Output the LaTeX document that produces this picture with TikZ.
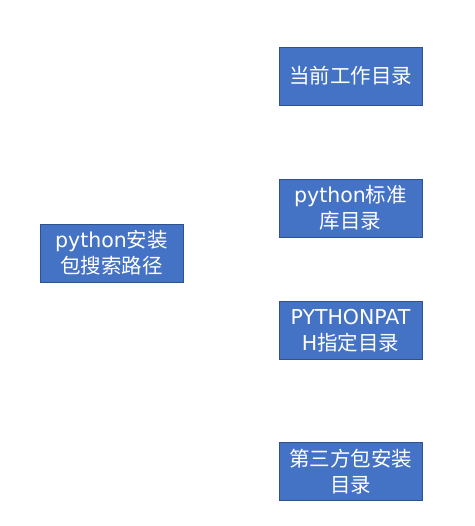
\documentclass[tikz,border=0pt]{standalone}
\usepackage{fontspec}
\setmainfont{DejaVu Sans}
\newfontfamily\cjk{Noto Sans CJK SC}
\definecolor{boxblue}{HTML}{4472C4}
\definecolor{boxedge}{HTML}{2F528F}
\tikzset{
	pathbox/.style={
		draw=boxedge,
		fill=boxblue,
		line width=0.8pt,
		text=white,
		minimum width=143pt,
		minimum height=58pt,
		inner sep=0pt,
		align=center,
		font=\fontsize{20.5}{26}\selectfont
	}
}
\begin{document}
\begin{tikzpicture}[x=1pt,y=-1pt]
		% Fix the page size.
		\useasboundingbox (0,0) rectangle (474,526);
		
		% Draw the search path box.
		\node[pathbox] (search) at (111.5,253) {python{\cjk 安装}\\{\cjk 包搜索路径}};
		
		% Draw the directories.
		\node[pathbox] (cwd) at (350.5,76) {{\cjk 当前工作目录}};
		\node[pathbox] (stdlib) at (350.5,208) {python{\cjk 标准}\\{\cjk 库目录}};
		\node[pathbox] (pypath) at (350.5,330.5) {PYTHONPAT\\H{\cjk 指定目录}};
		\node[pathbox] (sitepkg) at (350.5,471.5) {{\cjk 第三方包安装}\\{\cjk 目录}};
	\end{tikzpicture}
\end{document}
